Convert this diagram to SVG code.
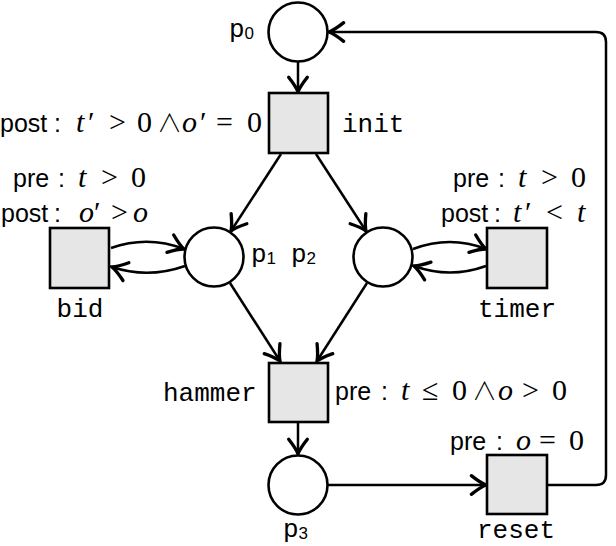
<svg xmlns="http://www.w3.org/2000/svg" width="616" height="546" viewBox="0 0 616 546">
<style>
.pl{fill:#fff;stroke:#000;stroke-width:2.6}
.tr{fill:#e6e6e6;stroke:#000;stroke-width:2.6}
.ed{fill:none;stroke:#000;stroke-width:2.5;marker-end:url(#ah)}
.mono{font-family:"Liberation Mono","DejaVu Sans Mono",monospace;font-size:26px;fill:#000}
.sub{font-family:"Liberation Sans","DejaVu Sans",sans-serif;font-size:17px}
.m{font-family:"Liberation Serif","DejaVu Serif",serif;font-size:30px;fill:#000}
.sf{font-family:"Liberation Sans","DejaVu Sans",sans-serif;font-size:25px}
.i{font-style:italic}
.w{font-family:"Noto Sans CJK JP",sans-serif;font-weight:300;font-size:25px}
</style>
<defs>
<marker id="ah" markerUnits="userSpaceOnUse" markerWidth="24" markerHeight="24" viewBox="-13 -9 16 18" refX="0" refY="0" orient="auto">
<path d="M-11,-7 Q-4,-1.5 0,0 Q-4,1.5 -11,7" fill="none" stroke="#000" stroke-width="2.5" stroke-linecap="round"/>
</marker>
</defs>
<g id="connectors">
<path class="ed" d="M298,62 L298,92"/>
<path class="ed" d="M281,154 L231,231"/>
<path class="ed" d="M316,154 L366,231"/>
<path class="ed" d="M230,283 L280,361"/>
<path class="ed" d="M367,283 L317,361"/>
<path class="ed" d="M298,423 L298,454"/>
<path class="ed" d="M328,485 L486,485"/>
<path class="ed" d="M548,485 L596,485 Q606,485 606,475 L606,42 Q606,32 596,32 L329,32"/>
<path class="ed" d="M111,248 Q148,235 184,249"/>
<path class="ed" d="M185,266 Q148,279 112,267"/>
<path class="ed" d="M413,249 Q450,235 486,249"/>
<path class="ed" d="M486,266 Q450,279 414,266"/>
</g>
<g id="p0"><circle class="pl" cx="298" cy="32" r="29.5"/><text class="mono" x="229" y="37">p<tspan class="sub" dy="2">0</tspan></text></g>
<g id="init"><rect class="tr" x="269" y="93" width="59" height="60"/><text class="mono" x="342" y="132">init</text>
<text class="m" y="132"><tspan class="sf" x="0">post</tspan><tspan class="sf" x="54">:</tspan><tspan class="i" x="76">t</tspan><tspan x="88">′</tspan><tspan x="109">&gt;</tspan><tspan x="137">0</tspan><tspan class="w" x="157">∧</tspan><tspan class="i" x="182">o</tspan><tspan x="200">′</tspan><tspan x="216">=</tspan><tspan x="247">0</tspan></text></g>
<g id="p1"><circle class="pl" cx="214" cy="257" r="29.5"/><text class="mono" x="251" y="262">p<tspan class="sub" dy="2">1</tspan></text></g>
<g id="p2"><circle class="pl" cx="383" cy="257" r="29.5"/><text class="mono" x="291" y="262">p<tspan class="sub" dy="2">2</tspan></text></g>
<g id="bid"><rect class="tr" x="50" y="228" width="59" height="60"/><text class="mono" x="80" y="317" text-anchor="middle">bid</text>
<text class="m" y="187"><tspan class="sf" x="13">pre</tspan><tspan class="sf" x="58">:</tspan><tspan class="i" x="78">t</tspan><tspan x="101">&gt;</tspan><tspan x="131">0</tspan></text>
<text class="m" y="222"><tspan class="sf" x="1">post</tspan><tspan class="sf" x="54">:</tspan><tspan class="i" x="79">o</tspan><tspan x="94">′</tspan><tspan x="111">&gt;</tspan><tspan class="i" x="133">o</tspan></text></g>
<g id="timer"><rect class="tr" x="487" y="228" width="60" height="60"/><text class="mono" x="517" y="317" text-anchor="middle">timer</text>
<text class="m" y="187"><tspan class="sf" x="453">pre</tspan><tspan class="sf" x="498">:</tspan><tspan class="i" x="518">t</tspan><tspan x="541">&gt;</tspan><tspan x="571">0</tspan></text>
<text class="m" y="222"><tspan class="sf" x="441">post</tspan><tspan class="sf" x="494">:</tspan><tspan class="i" x="513">t</tspan><tspan x="525">′</tspan><tspan x="546">&lt;</tspan><tspan class="i" x="577">t</tspan></text></g>
<g id="hammer"><rect class="tr" x="269" y="363" width="59" height="59"/><text class="mono" x="163" y="401">hammer</text>
<text class="m" y="400"><tspan class="sf" x="335">pre</tspan><tspan class="sf" x="381">:</tspan><tspan class="i" x="401">t</tspan><tspan x="422">≤</tspan><tspan x="452">0</tspan><tspan class="w" x="472">∧</tspan><tspan class="i" x="498">o</tspan><tspan x="522">&gt;</tspan><tspan x="552">0</tspan></text></g>
<g id="p3"><circle class="pl" cx="298" cy="485" r="29.5"/><text class="mono" x="283" y="537">p<tspan class="sub" dy="2">3</tspan></text></g>
<g id="reset"><rect class="tr" x="487" y="455" width="60" height="59"/><text class="mono" x="516" y="538" text-anchor="middle">reset</text>
<text class="m" y="450"><tspan class="sf" x="450">pre</tspan><tspan class="sf" x="496">:</tspan><tspan class="i" x="516">o</tspan><tspan x="539">=</tspan><tspan x="569">0</tspan></text></g>
</svg>
